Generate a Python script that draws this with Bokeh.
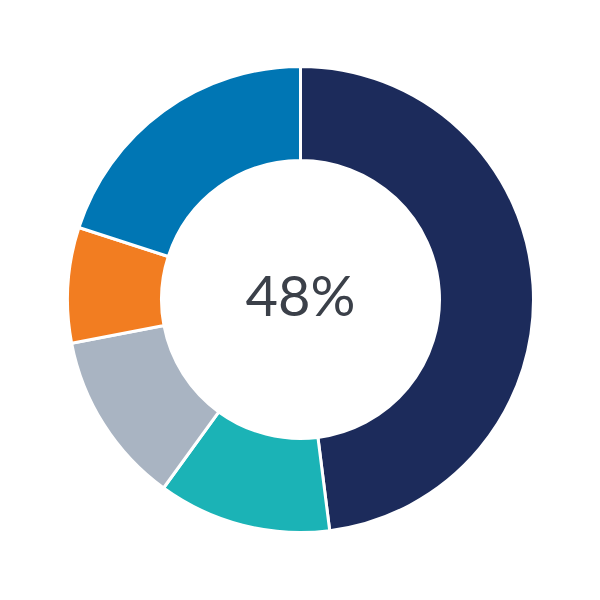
import numpy as np
from bokeh.plotting import figure
from bokeh.models import ColumnDataSource
from bokeh.core.properties import value
from bokeh.embed import file_html
from bokeh.resources import INLINE

# donut slices, clockwise from 12 o'clock
shares = [48, 12, 12, 8, 20]
colors = ["#1c2b5b", "#1bb3b6", "#a9b4c2", "#f27d21", "#0076b4"]
center_label = "48%"

fractions = np.array(shares) / sum(shares)
ends = np.pi / 2 - 2 * np.pi * np.cumsum(fractions)
starts = np.concatenate([[np.pi / 2], ends[:-1]])

source = ColumnDataSource(dict(start=starts, end=ends, color=colors, share=shares))

p = figure(width=584, height=584, x_range=(-300, 284), y_range=(-285, 299),
           output_backend="svg", toolbar_location=None, min_border=0)
p.annular_wedge(x=0, y=0, inner_radius=139, outer_radius=233,
                start_angle="start", end_angle="end", direction="clock",
                fill_color="color", line_color="white", line_width=3, source=source)

# centre label, nudged up a little to sit on the optical middle
p.text(x=[0], y=[0], text=[center_label], text_align="center", text_baseline="middle",
       y_offset=-5, text_font=value("Lato"), text_font_size="56px", text_color="#3b4049")

p.axis.visible = False
p.grid.visible = False
p.outline_line_color = None
p.background_fill_color = "white"
p.border_fill_color = "white"

open("out.html", "w").write(file_html(p, INLINE))
